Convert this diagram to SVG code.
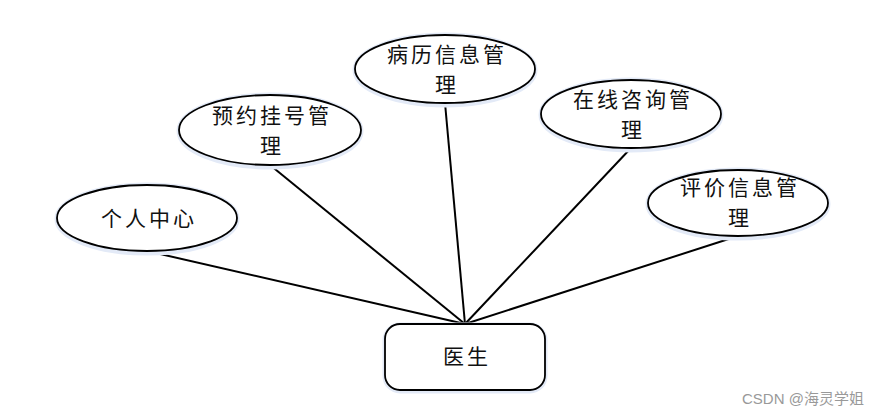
<svg xmlns="http://www.w3.org/2000/svg" width="896" height="418" viewBox="0 0 896 418">
<style>
.n{fill:#fff;stroke:#000;stroke-width:1.8}
.h{fill:none;stroke:#e3eaf7;stroke-width:5}
.t{font-family:"Noto Sans CJK SC","Noto Sans",sans-serif;font-size:21px;fill:#111;text-anchor:middle;letter-spacing:3px}
.c{stroke:#000;stroke-width:2;fill:none}
.w{font-family:"Liberation Sans","Noto Sans CJK SC",sans-serif;font-size:15px;fill:#999}
</style>
<rect width="896" height="418" fill="#fff"/>
<g id="connectors">
<line class="c" x1="147" y1="251" x2="465" y2="324"/>
<line class="c" x1="270" y1="165" x2="465" y2="324"/>
<line class="c" x1="445" y1="103" x2="465" y2="324"/>
<line class="c" x1="631" y1="148" x2="465" y2="324"/>
<line class="c" x1="738" y1="236" x2="465" y2="324"/>
</g>
<g id="n1"><ellipse class="h" cx="147" cy="219" rx="90" ry="34"/><ellipse class="n" cx="147" cy="218" rx="90" ry="33"/><text class="t" x="149" y="226">个人中心</text></g>
<g id="n2"><ellipse class="h" cx="270" cy="131" rx="91" ry="36"/><ellipse class="n" cx="270" cy="130" rx="91" ry="35"/><text class="t" x="272" y="123">预约挂号管</text><text class="t" x="272" y="153">理</text></g>
<g id="n3"><ellipse class="h" cx="445" cy="70" rx="90" ry="35"/><ellipse class="n" cx="445" cy="69" rx="90" ry="34"/><text class="t" x="447" y="62">病历信息管</text><text class="t" x="447" y="92">理</text></g>
<g id="n4"><ellipse class="h" cx="631" cy="115" rx="90" ry="35"/><ellipse class="n" cx="631" cy="114" rx="90" ry="34"/><text class="t" x="633" y="107">在线咨询管</text><text class="t" x="633" y="137">理</text></g>
<g id="n5"><ellipse class="h" cx="738" cy="204" rx="90" ry="34"/><ellipse class="n" cx="738" cy="203" rx="90" ry="33"/><text class="t" x="740" y="195">评价信息管</text><text class="t" x="740" y="225">理</text></g>
<g id="n6"><rect class="h" x="385" y="325" width="160" height="66" rx="15"/><rect class="n" x="385" y="324" width="160" height="66" rx="15"/><text class="t" x="467" y="364">医生</text></g>
<text class="w" x="742" y="404">CSDN @海灵学姐</text>
</svg>
